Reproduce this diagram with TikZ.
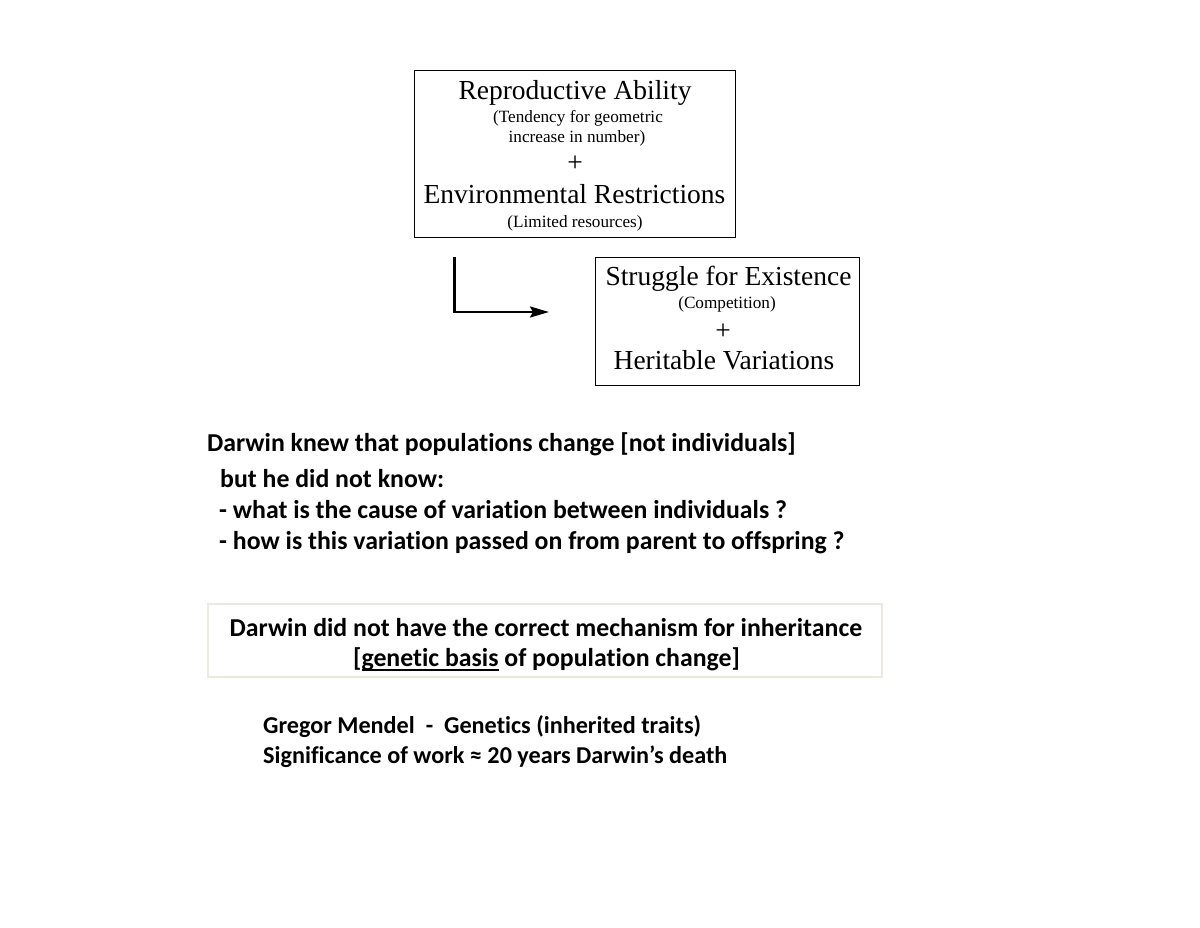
\documentclass[tikz,border=0pt]{standalone}
\usepackage{fontspec}
\usepackage{tikz}
\usetikzlibrary{arrows.meta}
\newfontfamily\calibfont{Carlito}[RawFeature=-liga]
\newfontfamily\romanfont{Liberation Serif}
\definecolor{paleedge}{RGB}{236,233,222}
\newcommand{\lowline}[1]{\setbox0\hbox{#1}\rlap{\rule[-4.3pt]{\wd0}{1.6pt}}\box0\relax}

\begin{document}
\begin{tikzpicture}[x=1pt,y=-1pt,
    box/.style={draw,line width=1pt,inner sep=0pt},
    big/.style={anchor=base,inner sep=0pt,font=\romanfont\fontsize{27.5}{30}\selectfont},
    small/.style={anchor=base,inner sep=0pt,font=\romanfont\fontsize{17.2}{19}\selectfont},
    body/.style={anchor=base west,inner sep=0pt,font=\calibfont\bfseries\fontsize{25.8}{30}\selectfont},
    note/.style={body,font=\calibfont\bfseries\fontsize{24.2}{28}\selectfont}]
  \useasboundingbox (0,0) rectangle (1200,927);

  % upper box
  \node[box,minimum width=321pt,minimum height=167pt] (causes) at (574.5,153.5) {};
  \node[big] (repro) at (575,99) {Reproductive Ability};
  \node[small] (tend) at (578,122) {(Tendency for geometric};
  \node[small] (incr) at (577,142) {increase in number)};
  \node[big,anchor=center] (plus1) at (575,164) {+};
  \node[big] (envir) at (574.5,203) {Environmental Restrictions};
  \node[small] (limit) at (575,227) {(Limited resources)};

  % lower box
  \node[box,minimum width=264pt,minimum height=128pt] (result) at (727,321) {};
  \node[big] (strug) at (728.5,285) {Struggle for Existence};
  \node[small] (compet) at (727,308) {(Competition)};
  \node[big,anchor=center] (plus2) at (723,332) {+};
  \node[big] (herit) at (724,369) {Heritable Variations};

  % arrow
  \coordinate (bend top) at (454.5,257);
  \coordinate (bend tip) at (549,312);
  \draw[line width=2.7pt,-{Stealth[length=19pt,width=11pt,inset=3pt]}] (bend top) |- (bend tip);

  % text
  \node[body] (knew) at (207,451) {Darwin knew that populations change [not individuals]};
  \node[body] (but) at (220,487) {but he did not know:};
  \node[body] (cause) at (219,518) {- what is the cause of variation between individuals ?};
  \node[body] (pass) at (219,549) {- how is this variation passed on from parent to offspring ?};

  \draw[paleedge,line width=1.5pt] (208,604) rectangle (882,677);
  \node[body,anchor=base] (mech) at (546,636) {Darwin did not have the correct mechanism for inheritance};
  \node[body,anchor=base] (basis) at (546.5,666.5) {[\lowline{genetic basis} of population change]};

  \node[note] (mendel) at (263,733) {Gregor Mendel\ \ -\ \ Genetics (inherited traits)};
  \node[note] (signif) at (263,763) {Significance of work ≈ 20 years Darwin’s death};
\end{tikzpicture}
\end{document}
